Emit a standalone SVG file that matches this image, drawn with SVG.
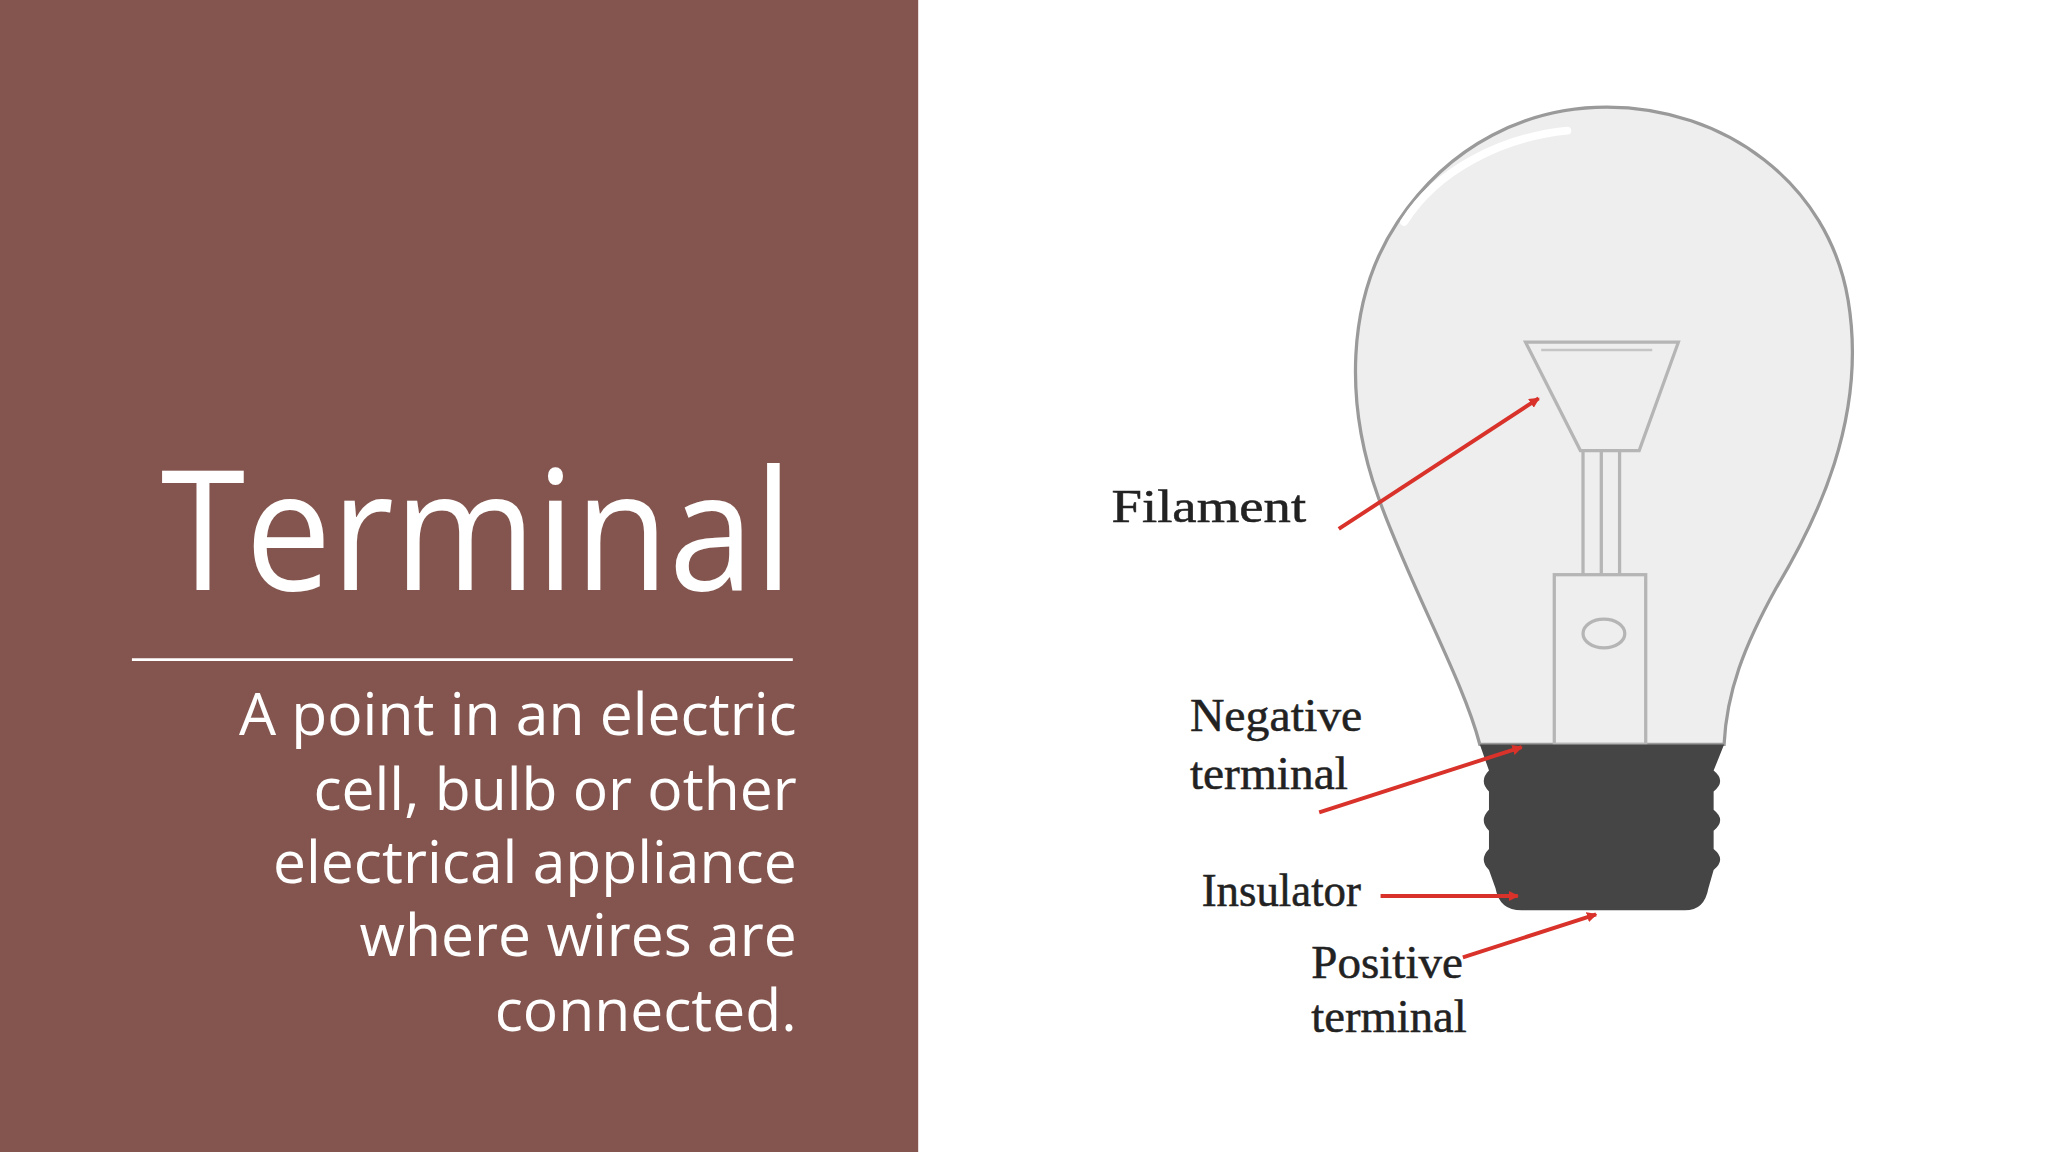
<svg xmlns="http://www.w3.org/2000/svg" width="2048" height="1152" viewBox="0 0 2048 1152">
<defs>
<marker id="ah" markerWidth="8" markerHeight="8" refX="7" refY="4" orient="auto" markerUnits="userSpaceOnUse" viewBox="0 0 8 8"><path d="M0,0 L8,4 L0,8 Z" fill="#d8322a"/></marker>
</defs>
<style>
.lbl{font-family:"Liberation Serif",serif;font-size:36px;fill:#222;stroke:#222;stroke-width:0.4}
.arr{stroke:#d8322a;stroke-width:3;fill:none;marker-end:url(#ah)}
.body{font-family:"Open Sans","Liberation Sans",sans-serif;font-size:45px;fill:#fff;text-anchor:end}
</style>
<rect width="2048" height="1152" fill="#fff"/>
<g transform="scale(1.30612)">
<g id="panel">
<rect x="0" y="0" width="703" height="882" fill="#83554e"/>
<text x="123" y="452" font-family="Open Sans, Liberation Sans, sans-serif" font-size="128" fill="#fff" textLength="484" lengthAdjust="spacingAndGlyphs">Terminal</text>
<line x1="101" y1="505" x2="607" y2="505" stroke="#fff" stroke-width="2"/>
<text class="body" x="610" y="563">A point in an electric</text>
<text class="body" x="610" y="620">cell, bulb or other</text>
<text class="body" x="610" y="676">electrical appliance</text>
<text class="body" x="610" y="732">where wires are</text>
<text class="body" x="610" y="789">connected.</text>
</g>
<g id="bulb">
<path d="M1133,570 C1120,520 1080,450 1055,380 C1030,310 1030,230 1070,170 C1110,110 1170,82 1230,82 C1320,82 1400,140 1415,230 C1430,320 1390,400 1360,450 C1335,495 1322,530 1320,570 Z" fill="#eeeeee" stroke="#9a9a9a" stroke-width="2.5"/>
<path d="M1075,170 C1100,130 1150,105 1200,100" stroke="#fff" stroke-width="6" fill="none" stroke-linecap="round"/>
<path d="M1168,262 L1285,262 L1255,345 L1210,345 Z" fill="none" stroke="#b5b5b5" stroke-width="2.5"/>
<path d="M1180,268 L1265,268" stroke="#c5c5c5" stroke-width="2"/>
<path d="M1212,345 L1212,440 M1240,345 L1240,440 M1226,345 L1226,440" stroke="#b5b5b5" stroke-width="2.5"/>
<rect x="1190" y="440" width="70" height="130" fill="none" stroke="#b5b5b5" stroke-width="2.5"/>
<ellipse cx="1228" cy="485" rx="16" ry="11" fill="none" stroke="#b5b5b5" stroke-width="2.5"/>
<path d="M1133,570 L1320,570 L1312,590 Q1322,598 1312,606 L1312,620 Q1322,628 1312,636 L1312,650 Q1322,658 1312,666 L1308,680 Q1305,697 1290,697 L1165,697 Q1148,697 1145,680 L1140,666 Q1132,658 1140,650 L1140,636 Q1132,628 1140,620 L1140,606 Q1132,598 1140,590 Z" fill="#454545"/>
</g>
<g id="labels">
<text class="lbl" x="851" y="400" textLength="149" lengthAdjust="spacingAndGlyphs">Filament</text>
<text class="lbl" x="911" y="560" textLength="132" lengthAdjust="spacingAndGlyphs">Negative</text>
<text class="lbl" x="911" y="604" textLength="121" lengthAdjust="spacingAndGlyphs">terminal</text>
<text class="lbl" x="920" y="694" textLength="122" lengthAdjust="spacingAndGlyphs">Insulator</text>
<text class="lbl" x="1004" y="749" textLength="116" lengthAdjust="spacingAndGlyphs">Positive</text>
<text class="lbl" x="1004" y="790" textLength="119" lengthAdjust="spacingAndGlyphs">terminal</text>
</g>
<g id="connectors">
<line class="arr" x1="1025" y1="405" x2="1178" y2="305"/>
<line class="arr" x1="1010" y1="622" x2="1165" y2="572"/>
<line class="arr" x1="1057" y1="686" x2="1162" y2="686"/>
<line class="arr" x1="1120" y1="733" x2="1222" y2="700"/>
</g>
</g>
</svg>
